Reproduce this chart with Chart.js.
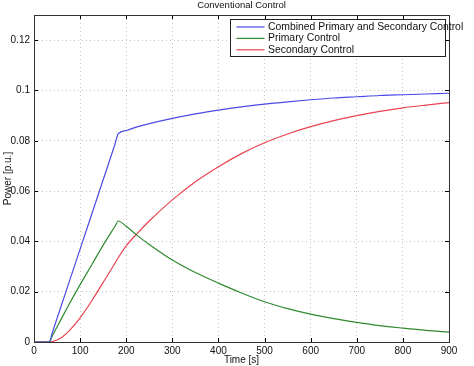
<!DOCTYPE html>
<html>
<head>
<meta charset="utf-8">
<script src="https://cdn.jsdelivr.net/npm/chart.js@4.4.1/dist/chart.umd.min.js"></script>
<style>
  html, body { margin: 0; padding: 0; background: #fff; }
  #wrap { width: 474px; height: 366px; }
</style>
</head>
<body>
<div id="wrap"><canvas id="chart"></canvas></div>
<script>
const timeSec = [0, 20, 33, 40, 50, 60, 75, 100, 125, 150, 175, 183, 200, 225, 250, 300, 350, 400, 450, 500, 550, 600, 650, 700, 750, 800, 850, 900];

const combinedPower = [0, 0, 0, 0.0039, 0.0094, 0.0149, 0.0232, 0.0369, 0.0507, 0.0645, 0.0783, 0.0828, 0.0841, 0.0856, 0.0868, 0.0889, 0.0907, 0.0922, 0.0935, 0.0946, 0.0955, 0.0963, 0.0970, 0.0975, 0.0980, 0.0983, 0.0986, 0.0989];
const primaryPower = [0, 0, 0, 0.0025, 0.0060, 0.0095, 0.0146, 0.0228, 0.0306, 0.0385, 0.0458, 0.0481, 0.0460, 0.0422, 0.0388, 0.0326, 0.0276, 0.0234, 0.0195, 0.0160, 0.0133, 0.0111, 0.0093, 0.0078, 0.0065, 0.0055, 0.0046, 0.0039];
const secondaryPower = [0, 0, 0, 0.0002, 0.0008, 0.0018, 0.0042, 0.0096, 0.0163, 0.0237, 0.0311, 0.0336, 0.0382, 0.0434, 0.0481, 0.0565, 0.0637, 0.0697, 0.0749, 0.0792, 0.0827, 0.0856, 0.0880, 0.0900, 0.0917, 0.0931, 0.0942, 0.0952];

const xTicks = [0, 100, 200, 300, 400, 500, 600, 700, 800, 900];
const yTicks = [0, 0.02, 0.04, 0.06, 0.08, 0.1, 0.12];

const seriesLabels = ['Combined Primary and Secondary Control', 'Primary Control', 'Secondary Control'];
const seriesColors = ['#4b4be8', '#2f8a2f', '#ea4450'];

const FONT = '"Liberation Sans", Arial, sans-serif';

function toPoints(values) {
  return values.map((v, i) => ({ x: timeSec[i], y: v }));
}

function fixedTicks(list) {
  return (scale) => {
    scale.ticks = list.map((v) => ({ value: v }));
  };
}

// matlab style box, inward ticks and inside legend
const matlabFrame = {
  id: 'matlabFrame',
  afterDraw(chart) {
    const { ctx, chartArea: a, scales } = chart;
    ctx.save();
    ctx.strokeStyle = '#000';
    ctx.lineWidth = 1;
    ctx.setLineDash([]);

    ctx.beginPath();
    xTicks.forEach((t) => {
      const px = Math.round(scales.x.getPixelForValue(t)) + 0.5;
      ctx.moveTo(px, a.bottom); ctx.lineTo(px, a.bottom - 4);
      ctx.moveTo(px, a.top); ctx.lineTo(px, a.top + 4);
    });
    yTicks.forEach((t) => {
      const py = Math.round(scales.y.getPixelForValue(t)) + 0.5;
      ctx.moveTo(a.left, py); ctx.lineTo(a.left + 4, py);
      ctx.moveTo(a.right, py); ctx.lineTo(a.right - 4, py);
    });
    ctx.stroke();

    ctx.strokeStyle = '#333';
    ctx.strokeRect(Math.round(a.left) + 0.5, Math.round(a.top) + 0.5,
      Math.round(a.right - a.left), Math.round(a.bottom - a.top));

    // legend box
    const boxW = 215;
    const boxH = 37;
    const bx = Math.round(a.right) - boxW - 4 + 0.5;
    const by = Math.round(a.top) + 4 + 0.5;
    ctx.fillStyle = '#fff';
    ctx.fillRect(bx, by, boxW, boxH);
    ctx.strokeStyle = '#222';
    ctx.strokeRect(bx, by, boxW, boxH);

    ctx.font = '10.4px ' + FONT;
    ctx.textBaseline = 'middle';
    chart.data.datasets.forEach((ds, i) => {
      const ly = by + 7.5 + i * 11.4;
      ctx.strokeStyle = ds.borderColor;
      ctx.lineWidth = 1.2;
      ctx.beginPath();
      ctx.moveTo(bx + 6, ly);
      ctx.lineTo(bx + 34, ly);
      ctx.stroke();
      ctx.fillStyle = '#111';
      ctx.fillText(ds.label, bx + 37.5, ly);
    });
    ctx.restore();
  },
};

const datasets = [combinedPower, primaryPower, secondaryPower].map((values, i) => ({
  label: seriesLabels[i],
  data: toPoints(values),
  borderColor: seriesColors[i],
  backgroundColor: seriesColors[i],
  borderWidth: 1.2,
  pointRadius: 0,
  fill: false,
  cubicInterpolationMode: 'monotone',
}));

new Chart(document.getElementById('chart'), {
  type: 'line',
  data: { datasets },
  plugins: [matlabFrame],
  options: {
    responsive: true,
    maintainAspectRatio: false,
    animation: false,
    layout: { padding: { left: 0, right: 25, top: 0, bottom: 0 } },
    plugins: {
      legend: { display: false },
      tooltip: { enabled: false },
      title: {
        display: true,
        fullSize: false,
        text: 'Conventional Control',
        color: '#111',
        font: { family: FONT, size: 9.5, weight: 'normal' },
        padding: { top: 0, bottom: 3.6 },
      },
    },
    scales: {
      x: {
        type: 'linear',
        min: 0,
        max: 900,
        afterBuildTicks: fixedTicks(xTicks),
        afterFit(scale) { scale.height = 24; },
        grid: { color: '#c4c4c4', tickLength: 0, drawTicks: false },
        border: { display: false, dash: [1, 3] },
        ticks: {
          color: '#111',
          padding: 3,
          maxRotation: 0,
          font: { family: FONT, size: 10 },
          callback: (v) => String(v),
        },
        title: {
          display: true,
          text: 'Time [s]',
          color: '#111',
          padding: 0,
          font: { family: FONT, size: 10 },
        },
      },
      y: {
        type: 'linear',
        min: 0,
        max: 0.13,
        afterBuildTicks: fixedTicks(yTicks),
        afterFit(scale) { scale.width = 34; },
        grid: { color: '#c4c4c4', tickLength: 0, drawTicks: false },
        border: { display: false, dash: [1, 3] },
        ticks: {
          color: '#111',
          padding: 4,
          font: { family: FONT, size: 10 },
          callback: (v) => String(Math.round(v * 100) / 100),
        },
        title: {
          display: true,
          text: 'Power [p.u.]',
          color: '#111',
          padding: { top: 2, bottom: 0 },
          font: { family: FONT, size: 10 },
        },
      },
    },
  },
});
</script>
</body>
</html>
